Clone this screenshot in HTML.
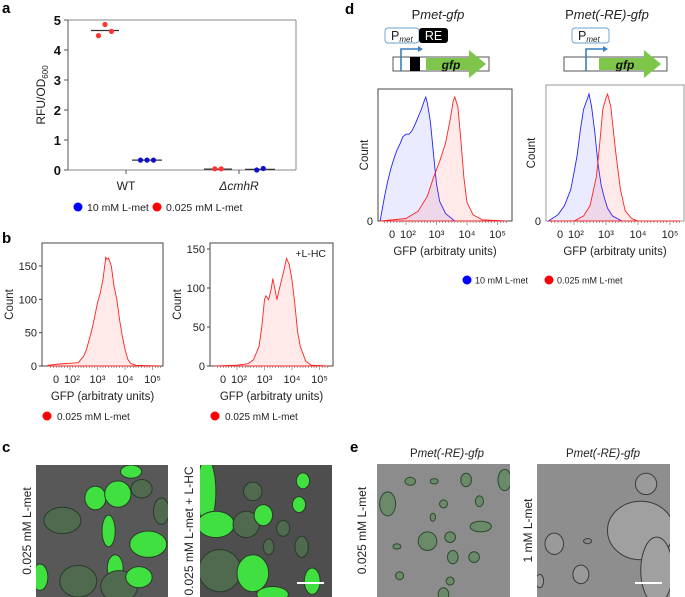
<!DOCTYPE html>
<html><head><meta charset="utf-8">
<style>
html,body{margin:0;padding:0;background:#fff;}
svg{display:block;font-family:"Liberation Sans",Arial,sans-serif;}
</style></head>
<body>
<svg id="fig" width="685" height="597" viewBox="0 0 685 597" xmlns="http://www.w3.org/2000/svg">
<g id="root"></g>
</svg>
<script>
// ---------- DATA ----------
// Panel a
const aGroups = ["WT", "ΔcmhR"];
const aRedPoints = [[4.48, 4.85, 4.62], [0.04, 0.04]];
const aRedMeans = [4.65, 0.03];
const aBluePoints = [[0.33, 0.33, 0.33], [0.0, 0.05]];
const aBlueMeans = [0.33, 0.02];
const aYTicks = [0, 1, 2, 3, 4, 5];
// Panel b (log10 GFP, count)
const b1Log = [1.2,1.6,2.0,2.3,2.5,2.6,2.7,2.8,2.9,3.0,3.1,3.2,3.3,3.35,3.4,3.5,3.6,3.7,3.8,3.9,4.0,4.1,4.2,4.4,5.3];
const b1Count = [1,3,4,5,15,25,40,55,75,95,110,130,163,160,162,150,120,100,70,45,25,10,4,1,0];
const b2Log = [1.2,2.0,2.4,2.6,2.8,2.9,3.0,3.05,3.15,3.25,3.3,3.4,3.45,3.55,3.7,3.8,3.9,4.0,4.1,4.2,4.3,4.5,4.7,5.3];
const b2Count = [0,1,3,8,25,50,85,90,85,100,112,95,85,100,122,138,130,110,80,45,25,6,1,0];
const bYTicks1 = [0, 50, 100, 150];
const bYTicks2 = [0, 50, 100, 150];
const xTickLabels = ["0", "10²", "10³", "10⁴", "10⁵"];
// Panel d (log10 GFP, % of max)
const d1BlueLog = [1.15,1.3,1.4,1.5,1.6,1.7,1.8,1.9,2.0,2.1,2.2,2.3,2.4,2.5,2.6,2.65,2.7,2.8,2.9,3.0,3.1,3.3,3.6];
const d1BlueVal = [0,20,32,42,50,57,62,68,70,70,73,78,84,90,97,100,95,80,55,30,16,6,0];
const d1RedLog = [1.15,2.0,2.4,2.7,2.9,3.1,3.3,3.45,3.55,3.6,3.7,3.8,3.9,4.0,4.2,4.5,5.3];
const d1RedVal = [0,2,8,20,35,48,63,82,97,100,92,65,35,15,5,1,0];
const d2BlueLog = [1.2,1.5,1.7,1.9,2.0,2.1,2.2,2.3,2.4,2.47,2.55,2.65,2.75,2.85,2.95,3.05,3.2,3.5,5.3];
const d2BlueVal = [0,5,12,25,38,52,72,88,95,100,90,70,45,28,18,10,4,0,0];
const d2RedLog = [1.2,2.0,2.3,2.5,2.7,2.8,2.9,3.0,3.05,3.15,3.3,3.45,3.6,3.8,4.0,5.3];
const d2RedVal = [0,0,4,12,35,60,88,97,100,90,55,25,8,2,0,0];

// ---------- HELPERS ----------
const NS = "http://www.w3.org/2000/svg";
const root = document.getElementById("root");
function mk(tag, attrs, parent) {
  const e = document.createElementNS(NS, tag);
  for (const k in attrs) e.setAttribute(k, attrs[k]);
  (parent || root).appendChild(e);
  return e;
}
function txt(x, y, s, size, parent, extra) {
  const t = mk("text", Object.assign({x: x, y: y, "font-size": size, fill: "#222"}, extra || {}), parent);
  t.textContent = s;
  return t;
}

// ---------- PANEL LABELS ----------
[["a",2,13],["b",2,243],["c",2,452],["d",345,14],["e",350,452]].forEach(p=>{
  const t = txt(p[1], p[2], p[0], 15, root, {"font-weight":"bold", fill:"#000"});
  
  
});

// ---------- PANEL A ----------
(function(){
  const g = mk("g", {});
  
  
  const x0 = 68, x1 = 296, yTop = 20, yBot = 170;
  const yS = v => yBot - v / 5 * (yBot - yTop);
  mk("line", {x1:x1,y1:yTop,x2:x1,y2:yBot,stroke:"#888","stroke-width":1}, g);
  mk("line", {x1:x0,y1:yTop,x2:x1,y2:yTop,stroke:"#888","stroke-width":1}, g);
  mk("line", {x1:x0,y1:yBot,x2:x1,y2:yBot,stroke:"#888","stroke-width":1}, g);
  mk("line", {x1:x0,y1:yTop,x2:x0,y2:yBot,stroke:"#555","stroke-width":1}, g);
  aYTicks.forEach(v=>{
    mk("line",{x1:x0-4,y1:yS(v),x2:x0,y2:yS(v),stroke:"#555"},g);
    const t = txt(x0-7, yS(v)+5, String(v), 13, g, {"text-anchor":"end","font-weight":"bold",fill:"#111"});
    
    
  });
  [126, 239].forEach(x=>mk("line",{x1:x,y1:yBot,x2:x,y2:yBot+4,stroke:"#555"},g));
  const yl = txt(0, 0, "RFU/OD", 12, g, {"text-anchor":"middle", transform:"translate(45,95) rotate(-90)"});
  
  
  const sub = mk("tspan",{"font-size":8,dy:3},yl); sub.textContent = "600";
  const centers = [126, 239];
  aGroups.forEach((name, i)=>{
    const lab = txt(centers[i], 190, name, 12, g, {"text-anchor":"middle", "font-style": i===1?"italic":"normal"});
    
    
    const rc = centers[i] - 21, bc = centers[i] + 21;
    const rm = mk("line",{x1:rc-14,y1:yS(aRedMeans[i]),x2:rc+14,y2:yS(aRedMeans[i]),stroke:"#333","stroke-width":1.2},g);
    
    
    const bm = mk("line",{x1:bc-15,y1:yS(aBlueMeans[i]),x2:bc+15,y2:yS(aBlueMeans[i]),stroke:"#333","stroke-width":1.2},g);
    
    
    const rp = aRedPoints[i], bp = aBluePoints[i];
    rp.forEach((v,j)=>{
      const c = mk("circle",{cx:rc + (j - (rp.length-1)/2)*6.5, cy:yS(v), r:2.6, fill:"#f33"},g);
      
      
    });
    bp.forEach((v,j)=>{
      const c = mk("circle",{cx:bc + (j - (bp.length-1)/2)*6.5, cy:yS(v), r:2.6, fill:"#11c"},g);
      
      
    });
  });
  const l1 = mk("circle",{cx:78,cy:207,r:4.5,fill:"#00f"},g);
  
  
  txt(87,211,"10 mM L-met",10.5,g);
  const l2 = mk("circle",{cx:157,cy:207,r:4.5,fill:"#f00"},g);
  
  
  txt(166,211,"0.025 mM L-met",10.5,g);
})();

// ---------- HISTOGRAM ----------
function hist(opt){
  const g = mk("g",{});
  
  
  const {x0,x1,yTop,yBot,xAt2,dec,maxV} = opt;
  const xS = l => xAt2 + (l - 2) * dec;
  const yS = v => yBot - v / maxV * (yBot - opt.yMaxPix);
  mk("rect",{x:x0,y:yTop,width:x1-x0,height:yBot-yTop,fill:"none",stroke:opt.boxColor||"#444","stroke-width":1},g);
  opt.series.forEach(s=>{
    let d = "M" + xS(s.log[0]).toFixed(1) + "," + yBot;
    s.log.forEach((l,i)=>{ d += " L" + Math.min(x1, xS(l)).toFixed(1) + "," + yS(s.val[i]).toFixed(1); });
    d += " L" + Math.min(x1, xS(s.log[s.log.length-1])).toFixed(1) + "," + yBot + " Z";
    const p = mk("path",{d:d,fill:s.fill,"fill-opacity":0.13,stroke:s.stroke,"stroke-width":0.9},g);
    
    
  });
  const tickLogs = [2,3,4,5];
  xTickLabels.forEach((lab,i)=>{
    let x = i===0 ? xS(2) - 14 : xS(tickLogs[i-1]) + (i===1 ? 2 : 0);
    const t = txt(x, yBot+17, lab, 11, g, {"text-anchor":"middle"});
    
    
  });
  for (let l=1.3; l<=5.3; l+=0.1) {
    const x = xS(l); if (x < x0 || x > x1) continue;
    const major = Math.abs(l - Math.round(l)) < 0.01;
    mk("line",{x1:x,y1:yBot,x2:x,y2:yBot+(major?4:2),stroke:"#666","stroke-width":0.6},g);
  }
  const xt = txt((x0+x1)/2, yBot+34, "GFP (arbitraty units)", 11.5, g, {"text-anchor":"middle"});
  
  
  const yt = txt(0,0,"Count",11.5,g,{"text-anchor":"middle",transform:`translate(${opt.countX},${(yTop+yBot)/2}) rotate(-90)`});
  
  
  if (opt.yTicks) {
    opt.yTicks.forEach(v=>{
      mk("line",{x1:x0-3,y1:yS(v),x2:x0,y2:yS(v),stroke:"#444"},g);
      const t = txt(x0-5, yS(v)+4, String(v), 11, g, {"text-anchor":"end"});
      
      
    });
  } else {
    txt(x0-5, yBot+4, "0", 11, g, {"text-anchor":"end"});
  }
  return g;
}

// Panel b
hist({name:"histogram-b-left",x0:42,x1:163,yTop:243,yBot:366,xAt2:70,dec:27.5,maxV:150,yMaxPix:266,yTicks:bYTicks1,countX:13,
  series:[{log:b1Log,val:b1Count,fill:"#f55",stroke:"#f22",name:"histogram-red"}]});
const gb2 = hist({name:"histogram-b-right",x0:210,x1:333,yTop:243,yBot:366,xAt2:237,dec:27.5,maxV:150,yMaxPix:249,yTicks:bYTicks2,countX:181,
  series:[{log:b2Log,val:b2Count,fill:"#f55",stroke:"#f22",name:"histogram-red"}]});
txt(326,257,"+L-HC",10.5,gb2,{"text-anchor":"end"});
[[47,20],[215,188]].forEach(p=>{
  const c = mk("circle",{cx:p[0],cy:416,r:4.5,fill:"#f00"});
  
  
  txt(p[0]+10,420,"0.025 mM L-met",10);
});

// Panel d
hist({name:"histogram-d-left",x0:378,x1:512,yTop:89,yBot:221,xAt2:406,dec:30.5,maxV:100,yMaxPix:97,countX:368,
  series:[{log:d1BlueLog,val:d1BlueVal,fill:"#66f",stroke:"#22f",name:"histogram-blue"},
          {log:d1RedLog,val:d1RedVal,fill:"#f55",stroke:"#f22",name:"histogram-red"}]});
hist({name:"histogram-d-right",x0:546,x1:684,yTop:85,yBot:221,xAt2:574,dec:32,maxV:100,yMaxPix:94,countX:535,boxColor:"#999",
  series:[{log:d2BlueLog,val:d2BlueVal,fill:"#66f",stroke:"#22f",name:"histogram-blue"},
          {log:d2RedLog,val:d2RedVal,fill:"#f55",stroke:"#f22",name:"histogram-red"}]});
const ldb = mk("circle",{cx:467,cy:280,r:4.5,fill:"#00f"});


txt(475,283.5,"10 mM L-met",9);
const ldr = mk("circle",{cx:549,cy:280,r:4.5,fill:"#f00"});


txt(557,283.5,"0.025 mM L-met",9);

// Construct diagrams
function titleP(x, y, rest){
  const t = txt(x, y, "P", 13, root, {"text-anchor":"middle"});
  const s = mk("tspan",{"font-style":"italic"},t); s.textContent = rest;
  return t;
}
const t1 = titleP(438,19,"met-gfp");


const t2 = titleP(607,19,"met(-RE)-gfp");


function construct(o){
  const g = mk("g",{});
  
  
  mk("rect",{x:o.px,y:28,width:o.pw,height:15,rx:3,fill:"#fff",stroke:"#6a9fd0","stroke-width":0.9},g);
  const pt = txt(o.px+6,40,"P",12.5,g); const sb = mk("tspan",{"font-size":8,"font-style":"italic",dy:2},pt); sb.textContent="met";
  if (o.re) { mk("rect",{x:o.px+o.pw,y:28,width:29,height:15,rx:3,fill:"#000"},g); txt(o.px+o.pw+14.5,40,"RE",12.5,g,{fill:"#fff","text-anchor":"middle"}); }
  mk("rect",{x:o.bx,y:57,width:o.bw,height:14,fill:"#fff",stroke:"#444","stroke-width":0.9},g);
  if (o.re) mk("rect",{x:o.bx+17,y:57,width:10,height:14,fill:"#000"},g);
  const gs = o.gx, ge = o.gx2;
  const arr = mk("path",{d:`M${gs},58 L${ge-17},58 L${ge-17},50 L${ge},64 L${ge-17},78 L${ge-17},70 L${gs},70 Z`,fill:"#7dc64a"},g);
  
  
  txt((gs+ge-10)/2,69,"gfp",12,g,{"font-weight":"bold","font-style":"italic","text-anchor":"middle",fill:"#111"});
  mk("path",{d:`M${o.ax},71 L${o.ax},49 L${o.ax+18},49`,fill:"none",stroke:"#3a7fc0","stroke-width":1.6},g);
  mk("path",{d:`M${o.ax+17},46 L${o.ax+22},49 L${o.ax+17},52 Z`,fill:"#3a7fc0"},g);
}
construct({name:"construct-pmet-gfp",px:385,pw:34,re:true,bx:393,bw:96,gx:426,gx2:486,ax:401});
construct({name:"construct-pmet-re-gfp",px:572,pw:37,re:false,bx:564,bw:103,gx:599,gx2:661,ax:586});

// ---------- MICROSCOPY ----------
function micro(o){
  const g = mk("g",{});
  
  
  const cid = "clip-" + o.name;
  const cp = mk("clipPath",{id:cid},g);
  mk("rect",{x:o.x,y:o.y,width:o.w,height:o.h},cp);
  mk("rect",{x:o.x,y:o.y,width:o.w,height:o.h,fill:o.bg},g);
  const inner = mk("g",{"clip-path":`url(#${cid})`},g);
  o.blobs.forEach(b=>{
    mk("ellipse",{cx:o.x+b[0]*o.w,cy:o.y+b[1]*o.h,rx:b[2]*o.w,ry:b[3]*o.h,fill:b[4],stroke:o.edge,"stroke-width":1},inner);
  });
  if (o.bar) {
    const s = mk("line",{x1:o.x+o.w-35,y1:o.y+o.h-14,x2:o.x+o.w-8,y2:o.y+o.h-14,stroke:"#fff","stroke-width":2},g);
    
    
  }
  const l = txt(0,0,o.label,12,g,{"text-anchor":"middle",transform:`translate(${o.lx},${o.y+o.h/2}) rotate(-90)`});
  
  
}
const G="#3fe03f", D="#4f6a4f", E="#6a8a6a";
micro({name:"micrograph-c-left",x:36,y:465,w:132,h:132,bg:"#585858",edge:"#2a3a2a",lx:31,label:"0.025 mM L-met",
  blobs:[[0.2,0.42,0.14,0.1,D],[0.45,0.25,0.08,0.09,G],[0.62,0.22,0.1,0.1,G],[0.8,0.18,0.08,0.07,D],[0.72,0.05,0.08,0.05,G],
         [0.55,0.5,0.05,0.12,G],[0.6,0.78,0.06,0.1,G],[0.85,0.6,0.14,0.1,G],[0.95,0.35,0.06,0.1,D],[0.32,0.88,0.14,0.12,D],
         [0.63,0.92,0.14,0.12,D],[0.78,0.85,0.1,0.08,G],[0.03,0.85,0.06,0.1,G]]});
micro({name:"micrograph-c-right",x:200,y:465,w:132,h:132,bg:"#4e4e4e",edge:"#2a3a2a",lx:193,label:"0.025 mM L-met + L-HC",bar:true,
  blobs:[[0.05,0.2,0.07,0.25,G],[0.12,0.45,0.14,0.1,G],[0.35,0.45,0.1,0.1,D],[0.48,0.38,0.07,0.08,G],[0.4,0.2,0.07,0.07,D],
         [0.78,0.12,0.05,0.06,G],[0.75,0.3,0.05,0.06,G],[0.63,0.48,0.05,0.06,D],[0.77,0.62,0.05,0.08,D],[0.52,0.62,0.04,0.06,D],
         [0.15,0.8,0.16,0.16,D],[0.4,0.82,0.12,0.14,G],[0.85,0.88,0.06,0.1,G],[0.55,0.98,0.12,0.06,G]]});
micro({name:"micrograph-e-left",x:377,y:464,w:133,h:133,bg:"#8c8c8c",edge:"#2d4a2d",lx:366,label:"0.025 mM L-met",
  blobs:[[0.08,0.3,0.06,0.09,E],[0.25,0.13,0.04,0.03,E],[0.43,0.13,0.03,0.02,E],[0.67,0.12,0.04,0.05,E],[0.96,0.12,0.05,0.08,E],
         [0.5,0.3,0.03,0.03,E],[0.42,0.4,0.02,0.03,E],[0.77,0.28,0.03,0.04,E],[0.78,0.47,0.08,0.04,E],[0.55,0.55,0.04,0.04,E],
         [0.38,0.58,0.07,0.07,E],[0.57,0.7,0.04,0.05,E],[0.73,0.7,0.04,0.04,E],[0.17,0.84,0.03,0.03,E],[0.55,0.88,0.03,0.03,E],
         [0.5,0.98,0.04,0.05,E],[0.15,0.62,0.03,0.02,E]]});
micro({name:"micrograph-e-right",x:537,y:464,w:133,h:133,bg:"#8e8e8e",edge:"#3a3a3a",lx:532,label:"1 mM L-met",bar:true,
  blobs:[[0.82,0.15,0.08,0.08,"#9a9a9a"],[0.78,0.5,0.25,0.22,"#a0a0a0"],[0.9,0.8,0.12,0.25,"#a0a0a0"],[0.13,0.6,0.07,0.08,"#9a9a9a"],
         [0.38,0.58,0.03,0.02,"#8a8a8a"],[0.33,0.83,0.06,0.07,"#9a9a9a"],[0.02,0.88,0.03,0.05,"#9a9a9a"]]});
const e1 = titleP(447,457,"met(-RE)-gfp"); e1.setAttribute('font-size','11.5');


const e2 = titleP(603,457,"met(-RE)-gfp"); e2.setAttribute('font-size','11.5');


</script>
</body></html>
